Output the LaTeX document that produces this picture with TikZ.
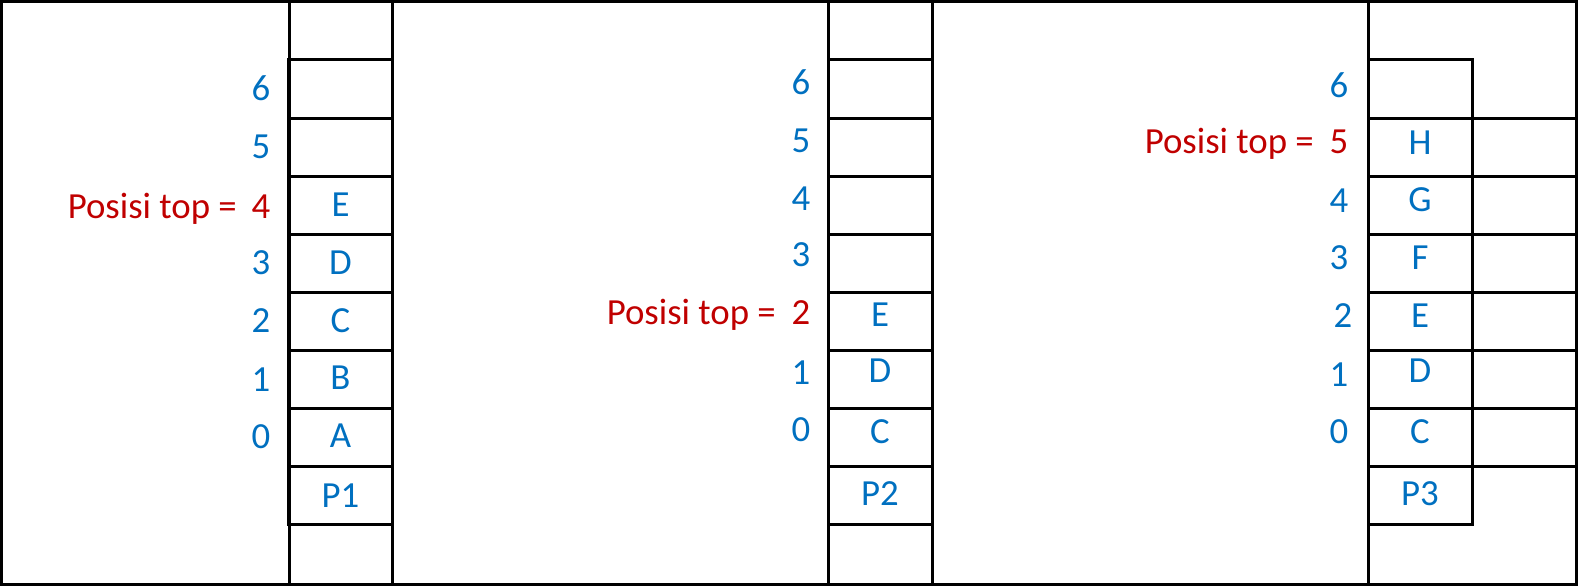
\documentclass[tikz,border=0pt]{standalone}
\usepackage{fontspec}
\setmainfont{Carlito}
\definecolor{idxblue}{HTML}{0070C0}
\definecolor{topred}{HTML}{C00000}
\begin{document}
\begin{tikzpicture}[x=1pt,y=-1pt,
  frame/.style={line width=3pt},
  cell/.style={draw, line width=3pt, rectangle, minimum width=104pt, minimum height=58pt, inner sep=0pt, outer sep=0pt},
  txt/.style={inner sep=0pt, text height=23.5pt, text depth=0pt, font=\fontsize{36.8}{40}\selectfont},
  idx/.style={txt, text=idxblue},
  lbl/.style={txt, text=topred},
]
\useasboundingbox (0,0) rectangle (1578,586);
\fill[white] (0,0) rectangle (1578,586);
\draw[frame] (1.5,1.5) rectangle (1576,584.5);
% full-height lines
\draw[frame] (289,0) -- (289,586);
\draw[frame] (392,0) -- (392,586);
\draw[frame] (828,0) -- (828,586);
\draw[frame] (932,0) -- (932,586);
\draw[frame] (1368,0) -- (1368,586);
% cells
\foreach \k/\y in {0/89,1/147,2/205,3/263,4/321,5/379,6/437,7/495}{
  \node[cell] (pa\k) at (340.5,\y) {};
  \node[cell] (pb\k) at (880,\y) {};
  \node[cell] (pc\k) at (1420,\y) {};
}
% panel 3 right side
\foreach \k in {1,...,7}{
  \draw[frame] (pc\k.north east) -- ++(104,0);
}
% panel 1 contents
\node[idx] (aE) at (340.5,205) {E};
\node[idx] (aD) at (340.5,263) {D};
\node[idx] (aC) at (340.5,321) {C};
\node[idx] (aB) at (340.5,378) {B};
\node[idx] (aA) at (340.5,436) {A};
\node[idx] (aP) at (340.5,496) {P1};
\node[idx] (a6) at (261,89) {6};
\node[idx] (a5) at (261,147) {5};
\node[lbl] (a4) at (261,207) {4};
\node[idx] (a3) at (261,263) {3};
\node[idx] (a2) at (261,321) {2};
\node[idx] (a1) at (261,380) {1};
\node[idx] (a0) at (261,437) {0};
\node[lbl, anchor=east] (atop) at (237,207) {Posisi top =};
% panel 2 contents
\node[idx] (bE) at (880,315) {E};
\node[idx] (bD) at (880,371) {D};
\node[idx] (bC) at (880,432) {C};
\node[idx] (bP) at (880,494) {P2};
\node[idx] (b6) at (801,83) {6};
\node[idx] (b5) at (801,141) {5};
\node[idx] (b4) at (801,199) {4};
\node[idx] (b3) at (801,255) {3};
\node[lbl] (b2) at (801,313) {2};
\node[idx] (b1) at (801,373) {1};
\node[idx] (b0) at (801,430) {0};
\node[lbl, anchor=east] (btop) at (776,313) {Posisi top =};
% panel 3 contents
\node[idx] (cH) at (1420,143) {H};
\node[idx] (cG) at (1420,200) {G};
\node[idx] (cF) at (1420,258) {F};
\node[idx] (cE) at (1420,316) {E};
\node[idx] (cD) at (1420,371) {D};
\node[idx] (cC) at (1420,432) {C};
\node[idx] (cP) at (1420,494) {P3};
\node[idx] (c6) at (1339,86) {6};
\node[lbl] (c5) at (1339,142) {5};
\node[idx] (c4) at (1339,201) {4};
\node[idx] (c3) at (1339,258) {3};
\node[idx] (c2) at (1343,316) {2};
\node[idx] (c1) at (1339,375) {1};
\node[idx] (c0) at (1339,432) {0};
\node[lbl, anchor=east] (ctop) at (1314,142) {Posisi top =};
\end{tikzpicture}
\end{document}
